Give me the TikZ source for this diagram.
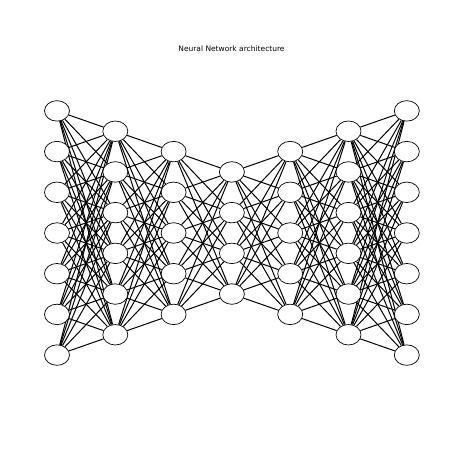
\documentclass[tikz,border=0pt]{standalone}
\usepackage{fontspec}
\newfontfamily\titlefont{DejaVu Sans}
\usetikzlibrary{shapes.geometric,backgrounds}

\tikzset{
  neuron/.style={ellipse, draw, fill=white, line width=0.7pt,
    minimum width=25pt, minimum height=20.5pt, inner sep=0pt},
  link/.style={line width=1pt}
}

\begin{document}
\begin{tikzpicture}[x=1pt, y=1pt]
    \useasboundingbox (0,0) rectangle (460,460);

    % タイトル
    \node[font=\titlefont\fontsize{7.5}{9}\selectfont] (title) at (231.5,411) {Neural Network architecture};

    % ノード
    \foreach \l/\n [count=\i] in {a/7, b/6, c/5, d/4, e/5, f/6, g/7} {
      \foreach \k in {1,...,\n} {
        \node[neuron] (\l\k) at ({57+58.3*(\i-1)}, {227+40.7*((\n+1)/2-\k)}) {};
      }
    }

    % エッジ
    \begin{pgfonlayer}{background}
      \foreach \p/\q/\m/\n in {a/b/7/6, b/c/6/5, c/d/5/4, d/e/4/5, e/f/5/6, f/g/6/7} {
        \foreach \j in {1,...,\m} {
          \foreach \k in {1,...,\n} {
            \draw[link] (\p\j) -- (\q\k);
          }
        }
      }
    \end{pgfonlayer}
  \end{tikzpicture}
\end{document}
